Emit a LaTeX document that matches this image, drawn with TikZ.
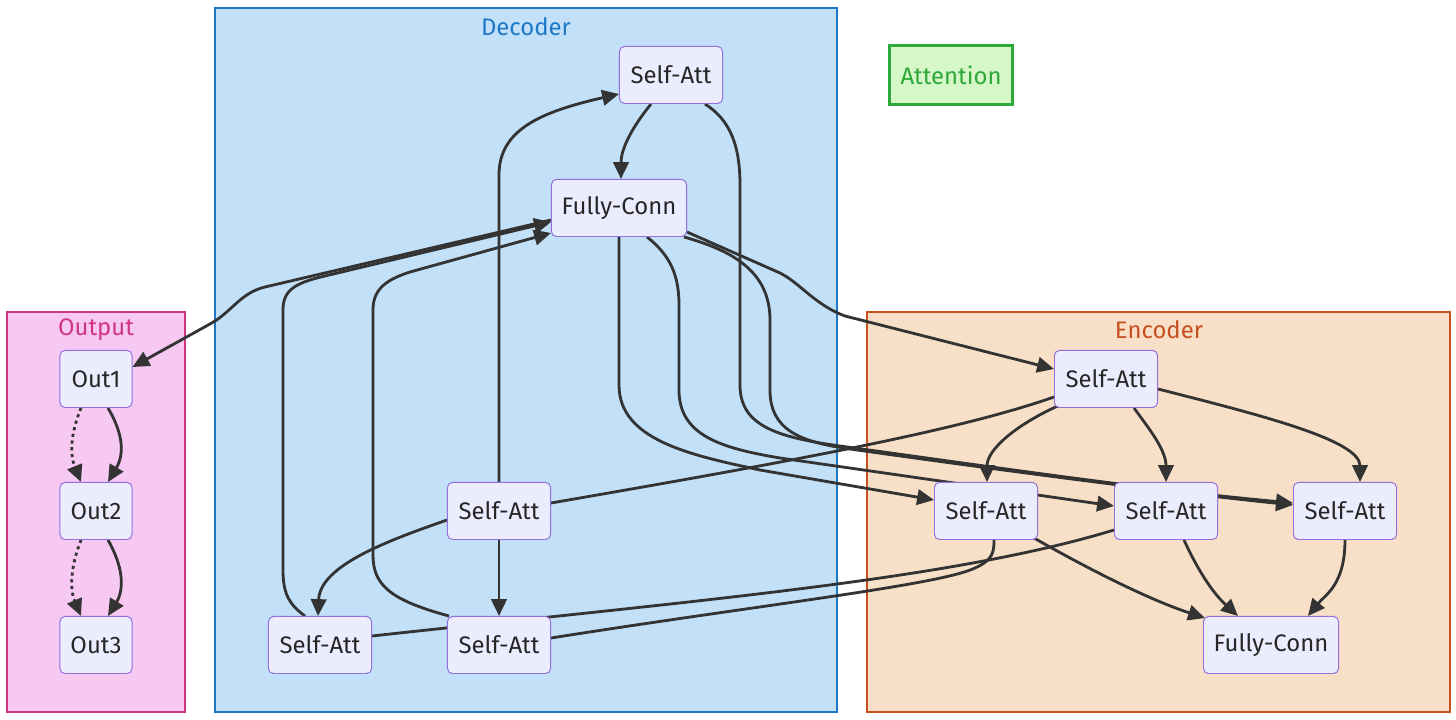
\documentclass[tikz,border=0pt]{standalone}
\usepackage{fontspec}
\setmainfont{Fira Sans}
\usetikzlibrary{arrows.meta,calc}

\definecolor{nodefill}{HTML}{ECECFF}
\definecolor{nodeline}{HTML}{9370DB}
\definecolor{edgecol}{HTML}{333333}
\definecolor{outfill}{HTML}{F7C8F1}
\definecolor{outline}{HTML}{D0357F}
\definecolor{decfill}{HTML}{C2E0F7}
\definecolor{decline}{HTML}{1E78C8}
\definecolor{encfill}{HTML}{F8E0C8}
\definecolor{encline}{HTML}{C8501E}
\definecolor{attfill}{HTML}{D6F8C8}
\definecolor{attline}{HTML}{2EA83A}

\pgfdeclarelayer{clusters}
\pgfdeclarelayer{wires}
\pgfsetlayers{clusters,wires,main}

\tikzset{
  blk/.style={draw=nodeline, fill=nodefill, line width=0.7pt, rounded corners=3.5pt,
    minimum height=1.425cm, inner sep=0pt, text=black!85, font=\fontsize{17}{19}\selectfont},
  sa/.style={blk, minimum width=2.575cm},
  fcbox/.style={blk, minimum width=3.375cm},
  outbox/.style={blk, minimum width=1.8cm},
  clus/.style={line width=1.8pt},
  clustitle/.style={font=\fontsize{17}{19}\selectfont},
  plainline/.style={draw=edgecol, line width=2pt},
  arrowline/.style={plainline, -{Triangle[length=12pt,width=11pt]}},
  dotline/.style={arrowline, dash pattern=on 2.2pt off 2.6pt}
}

\begin{document}
\begin{tikzpicture}[x=0.025cm,y=-0.025cm]
    \useasboundingbox (0,0) rectangle (1456,720);

    \begin{pgfonlayer}{clusters}
        \draw[clus, draw=outline, fill=outfill] (7,312) rectangle (185,712);
        \draw[clus, draw=decline, fill=decfill] (215,8) rectangle (837,712);
        \draw[clus, draw=encline, fill=encfill] (867,312) rectangle (1450,712);
    \end{pgfonlayer}

    \node[clustitle, text=outline] (outtitle) at (96,330) {Output};
    \node[clustitle, text=decline] (dectitle) at (526,27) {Decoder};
    \node[clustitle, text=encline] (enctitle) at (1159,330) {Encoder};

    \node[outbox] (out1) at (96,379) {Out1};
    \node[outbox] (out2) at (96,511) {Out2};
    \node[outbox] (out3) at (96,645) {Out3};

    \node[sa] (dsa1) at (671,75) {Self-Att};
    \node[fcbox] (dfc) at (619,208) {Fully-Conn};
    \node[sa] (dsa2) at (499,511) {Self-Att};
    \node[sa] (dsa3) at (320,645) {Self-Att};
    \node[sa] (dsa4) at (499,645) {Self-Att};

    \node[blk, draw=attline, fill=attfill, text=attline, line width=1.6pt, rounded corners=0pt,
      minimum width=3.075cm, minimum height=1.475cm] (att) at (951,75) {Attention};

    \node[sa] (esa1) at (1106,379) {Self-Att};
    \node[sa] (esa2) at (986,511) {Self-Att};
    \node[sa] (esa3) at (1166,511) {Self-Att};
    \node[sa] (esa4) at (1345,511) {Self-Att};
    \node[fcbox] (efc) at (1271,645) {Fully-Conn};

    \begin{pgfonlayer}{wires}
        \draw[arrowline] ($(dfc.west)+(0,12)$) -- (265,287) .. controls (240,293) and (232,312) .. (210,324) -- ($(out1.east)+(0,-12)$);
        \draw[dotline] ($(out1.south)+(-15,0)$) .. controls (70,435) and (70,455) .. ($(out2.north)+(-15,0)$);
        \draw[arrowline] ($(out1.south)+(12,0)$) .. controls (124,435) and (124,455) .. ($(out2.north)+(12,0)$);
        \draw[dotline] ($(out2.south)+(-15,0)$) .. controls (70,568) and (70,590) .. ($(out3.north)+(-15,0)$);
        \draw[arrowline] ($(out2.south)+(12,0)$) .. controls (124,568) and (124,590) .. ($(out3.north)+(12,0)$);

        \draw[arrowline] ($(dsa1.south)+(-20,0)$) .. controls (630,130) and (621,150) .. ($(dfc.north)+(2,0)$);
        \draw[arrowline] (dsa2.north) -- (499,175) .. controls (499,130) and (540,112) .. ($(dsa1.west)+(0,19)$);
        \draw[arrowline] (dsa2.south) -- (dsa4.north);
        \draw[arrowline] ($(dsa2.west)+(0,9)$) .. controls (390,540) and (320,565) .. ($(dsa3.north)+(-2,0)$);
        \draw[arrowline] ($(dsa3.north)+(-15,0)$) .. controls (290,605) and (283,595) .. (283,570) -- (283,310) .. controls (283,290) and (295,283) .. (325,276) -- ($(dfc.west)+(0,14)$);
        \draw[arrowline] ($(dsa4.north west)+(2,0)$) .. controls (390,600) and (373,585) .. (373,555) -- (373,310) .. controls (373,290) and (385,280) .. (410,272) -- ($(dfc.west)+(0,25)$);
        \draw[plainline] ($(dsa2.east)+(0,-8)$) .. controls (800,460) and (960,430) .. ($(esa1.west)+(0,18)$);
        \draw[plainline] ($(dsa3.east)+(0,-9)$) .. controls (700,600) and (950,580) .. ($(esa3.west)+(0,19)$);
        \draw[plainline] ($(dsa4.east)+(0,-7)$) .. controls (760,605) and (940,585) .. (975,568) .. controls (993,560) and (994,552) .. ($(esa2.south)+(8,0)$);

        \draw[arrowline] ($(dfc.east)+(0,24)$) -- (780,273) .. controls (800,283) and (815,305) .. (845,316) -- ($(esa1.west)+(0,-10)$);
        \draw[arrowline] (dfc.south) -- (619,385) .. controls (619,440) and (690,455) .. (760,470) -- ($(esa2.west)+(0,-11)$);
        \draw[arrowline] ($(dfc.south)+(28,0)$) .. controls (670,255) and (679,275) .. (679,305) -- (679,390) .. controls (679,435) and (720,448) .. (780,458) -- ($(esa3.west)+(0,-5)$);
        \draw[arrowline] ($(dfc.south east)+(-3,0)$) .. controls (730,250) and (770,270) .. (770,320) -- (770,390) .. controls (770,430) and (800,442) .. (850,449) .. controls (1000,470) and (1150,490) .. ($(esa4.west)+(0,-6)$);
        \draw[arrowline] ($(dsa1.south east)+(-18,0)$) .. controls (730,120) and (740,145) .. (740,185) -- (740,385) .. controls (740,425) and (775,437) .. (840,446) .. controls (1000,468) and (1150,490) .. ($(esa4.west)+(0,-8)$);

        \draw[arrowline] ($(esa1.south west)+(6,-3)$) .. controls (1015,425) and (987,450) .. ($(esa2.north)+(1,0)$);
        \draw[arrowline] ($(esa1.south)+(28,0)$) .. controls (1150,430) and (1166,450) .. (esa3.north);
        \draw[arrowline] ($(esa1.east)+(0,10)$) .. controls (1260,415) and (1360,440) .. ($(esa4.north)+(15,0)$);
        \draw[arrowline] ($(esa2.south east)+(-4,-2)$) .. controls (1090,570) and (1150,600) .. ($(efc.north west)+(2,2)$);
        \draw[arrowline] ($(esa3.south)+(18,0)$) .. controls (1200,575) and (1215,595) .. ($(efc.north)+(-33,0)$);
        \draw[arrowline] (esa4.south) .. controls (1345,585) and (1325,595) .. ($(efc.north)+(37,0)$);
    \end{pgfonlayer}
\end{tikzpicture}
\end{document}
